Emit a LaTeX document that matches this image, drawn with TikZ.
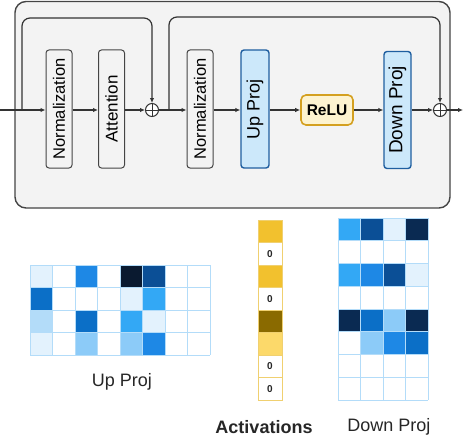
\documentclass[tikz,border=0pt]{standalone}
\usepackage{fontspec}
\setmainfont{Liberation Sans}
\usetikzlibrary{arrows.meta,calc}
\definecolor{wh}{HTML}{FFFFFF}
\definecolor{pale}{HTML}{E3F2FD}
\definecolor{lightA}{HTML}{B3DCF9}
\definecolor{lightB}{HTML}{8CCBF8}
\definecolor{bright}{HTML}{33A8F5}
\definecolor{mid}{HTML}{1E88E5}
\definecolor{blu}{HTML}{0B6FC7}
\definecolor{dark}{HTML}{0B4F96}
\definecolor{navy}{HTML}{0A2A52}
\definecolor{blk}{HTML}{0A1A30}
\definecolor{gridc}{HTML}{B3DCF9}
\definecolor{gold}{HTML}{F2C12E}
\definecolor{olive}{HTML}{8A6A00}
\definecolor{lgold}{HTML}{FCD96A}
\definecolor{goldline}{HTML}{F0D070}
\definecolor{panel}{HTML}{F3F3F3}
\definecolor{edge}{HTML}{444444}
\definecolor{line}{HTML}{333333}
\definecolor{upfill}{HTML}{CCE8FA}
\definecolor{upedge}{HTML}{1F5FA0}
\definecolor{relufill}{HTML}{FDF3D0}
\definecolor{reluedge}{HTML}{D4A020}
\tikzset{
  conn/.style={draw=line, line width=1.2pt, -{Latex[length=5pt,width=4.5pt]}},
  plain/.style={draw=line, line width=1.2pt},
  graybox/.style={draw=edge, fill=panel, line width=1pt, rounded corners=3pt,
    minimum width=26pt, minimum height=118pt, inner sep=0pt},
  bluebox/.style={draw=upedge, fill=upfill, line width=1.4pt, rounded corners=3pt,
    minimum width=28pt, minimum height=118pt, inner sep=0pt},
  plus/.style={circle, draw=line, fill=white, line width=1pt, minimum size=13pt, inner sep=0pt,
    path picture={\draw[line, line width=0.8pt] (path picture bounding box.north) -- (path picture bounding box.south)
      (path picture bounding box.west) -- (path picture bounding box.east);}},
  lbl/.style={font=\fontsize{18}{20}\selectfont, text=black!85},
  gridline/.style={draw=gridc, line width=0.8pt},
}
\begin{document}
\begin{tikzpicture}[x=1pt,y=-1pt]
\useasboundingbox (0,0) rectangle (474,444);
% outer panel
\draw[draw=edge, fill=panel, line width=1.4pt, rounded corners=11pt] (15,1.5) rectangle (450,208);
% nodes
\node[graybox] (n1) at (59,109) {\rotatebox{90}{\fontsize{16.5}{18}\selectfont Normalization}};
\node[graybox] (att) at (111.5,109) {\rotatebox{90}{\fontsize{17}{18}\selectfont Attention}};
\node[plus] (p1) at (152,110) {};
\node[graybox] (n2) at (200,109) {\rotatebox{90}{\fontsize{16.5}{18}\selectfont Normalization}};
\node[bluebox] (up) at (255,109) {\rotatebox{90}{\fontsize{18}{20}\selectfont Up Proj}};
\node[draw=reluedge, fill=relufill, line width=1.6pt, rounded corners=5pt, minimum width=52pt, minimum height=30pt, inner sep=0pt] (relu) at (327,110) {\fontsize{15.5}{17}\selectfont\bfseries ReLU};
\node[bluebox, minimum width=27pt, minimum height=117pt] (down) at (397.5,110) {\rotatebox{90}{\fontsize{19}{21}\selectfont Down Proj}};
\node[plus] (p2) at (440,110) {};
\coordinate (in) at (0,110);
\coordinate (s1) at (22,110);
\coordinate (s2) at (169,110);
\coordinate (t1) at (22,18);
\coordinate (t2) at (169,17);
\coordinate (out) at (463,110);
% connectors
\draw[plain] (in) -- (s1);
\draw[conn] (s1) -- (n1.west |- s1);
\draw[conn] (n1.east |- s1) -- (att.west |- s1);
\draw[conn] (att.east |- s1) -- (p1.west);
\draw[conn, rounded corners=8pt] (s1) -- (t1) -| (p1.north);
\draw[plain] (p1.east) -- (s2);
\draw[conn] (s2) -- (n2.west |- s2);
\draw[conn, rounded corners=8pt] (s2) -- (t2) -| (p2.north);
\draw[conn] (n2.east |- s2) -- (up.west |- s2);
\draw[conn] (up.east |- s2) -- (relu.west);
\draw[conn] (relu.east) -- (down.west |- relu);
\draw[conn] (down.east |- relu) -- (p2.west);
\draw[conn] (p2.east) -- (out);
% Up Proj matrix
\foreach \row [count=\r from 0] in {
  {pale,wh,mid,wh,blk,dark,wh,wh},
  {blu,wh,wh,wh,pale,bright,wh,wh},
  {lightA,wh,blu,wh,bright,pale,wh,wh},
  {pale,wh,lightB,wh,lightB,mid,wh,wh}}{
  \foreach \c [count=\k from 0] in \row {
    \fill[\c] (30+22.5*\k,265+22.5*\r) rectangle ++(22.5,22.5);
  }
}
\foreach \k in {0,...,8}{\draw[gridline] (30+22.5*\k,265) -- (30+22.5*\k,355);}
\foreach \r in {0,...,4}{\draw[gridline] (30,265+22.5*\r) -- (210,265+22.5*\r);}
% Activations
\foreach \c/\t [count=\k from 0] in {gold/,wh/0,gold/,wh/0,olive/,lgold/,wh/0,wh/0}{
  \draw[fill=\c, draw=goldline, line width=0.8pt] (258,220+22.5*\k) rectangle ++(24,22.5);
  \node[font=\fontsize{10}{11}\selectfont\bfseries, text=black!85] at (270,231.25+22.5*\k) {\t};
}
% Down Proj matrix
\foreach \row [count=\r from 0] in {
  {bright,dark,pale,navy},
  {wh,wh,wh,wh},
  {bright,mid,dark,pale},
  {wh,wh,wh,wh},
  {navy,blu,lightB,navy},
  {wh,lightB,mid,blu},
  {wh,wh,wh,wh},
  {wh,wh,wh,wh}}{
  \foreach \c [count=\k from 0] in \row {
    \fill[\c] (338+22.5*\k,218+22.75*\r) rectangle ++(22.5,22.75);
  }
}
\foreach \k in {0,...,4}{\draw[gridline] (338+22.5*\k,218) -- (338+22.5*\k,400);}
\foreach \r in {0,...,8}{\draw[gridline] (338,218+22.75*\r) -- (428,218+22.75*\r);}
% labels
\node[lbl] (lup) at (122,382) {Up Proj};
\node[lbl, font=\fontsize{18}{20}\selectfont\bfseries] (lact) at (264,427) {Activations};
\node[lbl] (ldown) at (389,427) {Down Proj};
\end{tikzpicture}
\end{document}
